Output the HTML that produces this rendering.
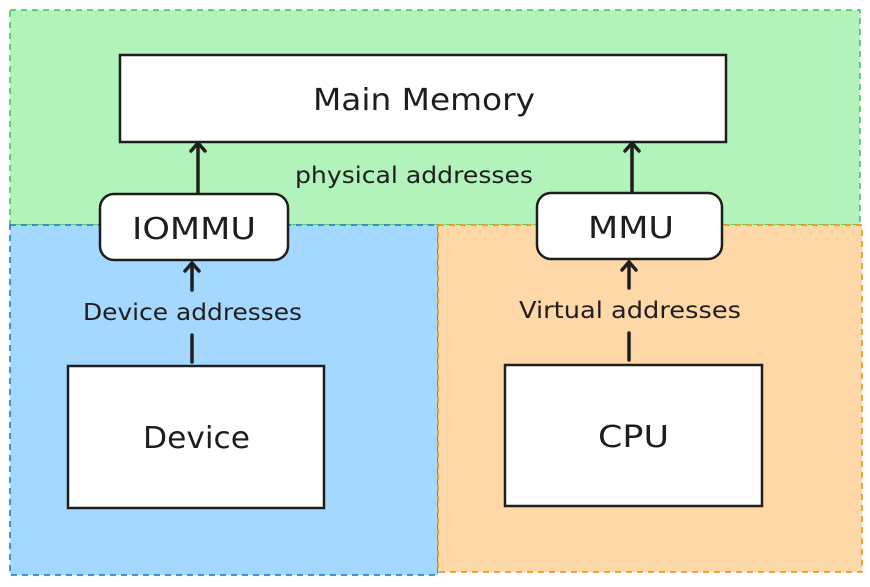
<!DOCTYPE html>
<html><head><meta charset="utf-8"><style>
html,body{margin:0;padding:0;background:#fff;}
svg text{font-family:"DejaVu Sans","Liberation Sans",sans-serif;fill:#1e1e1e;}
</style></head><body>
<svg width="870" height="582" viewBox="0 0 870 582" xmlns="http://www.w3.org/2000/svg">
<defs>
<marker id="ah" markerWidth="20" markerHeight="20" refX="10" refY="10" orient="auto" markerUnits="userSpaceOnUse">
<path d="M2,3 L10,10 L2,17" fill="none" stroke="#1e1e1e" stroke-width="3.5" stroke-linecap="round" stroke-linejoin="round"/>
</marker>
</defs>
<rect x="10" y="10" width="850" height="215" fill="#b2f2bb" stroke="#40c057" stroke-width="1.5" stroke-dasharray="6,5"/>
<rect x="10" y="225" width="428" height="350" fill="#a5d8ff" stroke="#1971c2" stroke-width="1.5" stroke-dasharray="6,5"/>
<rect x="438" y="225" width="424" height="347" fill="#ffd8a8" stroke="#f08c00" stroke-width="1.5" stroke-dasharray="6,5"/>

<rect x="120" y="55" width="606" height="87" fill="#fff" stroke="#1e1e1e" stroke-width="2.5"/>
<text x="313" y="110" font-size="30" textLength="222" lengthAdjust="spacingAndGlyphs">Main Memory</text>

<rect x="100" y="194" width="188" height="66" rx="14" fill="#fff" stroke="#1e1e1e" stroke-width="2.5"/>
<text x="132" y="239" font-size="30" textLength="124" lengthAdjust="spacingAndGlyphs">IOMMU</text>
<rect x="537" y="193" width="185" height="66" rx="14" fill="#fff" stroke="#1e1e1e" stroke-width="2.5"/>
<text x="588" y="238" font-size="30" textLength="86" lengthAdjust="spacingAndGlyphs">MMU</text>

<rect x="68" y="366" width="256" height="142" fill="#fff" stroke="#1e1e1e" stroke-width="2.5"/>
<text x="143" y="448" font-size="30" textLength="107" lengthAdjust="spacingAndGlyphs">Device</text>
<rect x="505" y="365" width="257" height="141" fill="#fff" stroke="#1e1e1e" stroke-width="2.5"/>
<text x="598" y="447" font-size="30" textLength="71" lengthAdjust="spacingAndGlyphs">CPU</text>

<g stroke="#1e1e1e" stroke-width="3.5" fill="none" stroke-linecap="round">
<line x1="198" y1="193" x2="198" y2="143" marker-end="url(#ah)"/>
<line x1="632" y1="192" x2="632" y2="143" marker-end="url(#ah)"/>
<line x1="192" y1="362" x2="192" y2="335"/>
<line x1="192" y1="290" x2="192" y2="263" marker-end="url(#ah)"/>
<line x1="629" y1="360" x2="629" y2="333"/>
<line x1="629" y1="288" x2="629" y2="262" marker-end="url(#ah)"/>
</g>
<text x="295" y="183" font-size="23" textLength="238" lengthAdjust="spacingAndGlyphs">physical addresses</text>
<text x="83" y="320" font-size="23" textLength="219" lengthAdjust="spacingAndGlyphs">Device addresses</text>
<text x="519" y="318" font-size="23" textLength="222" lengthAdjust="spacingAndGlyphs">Virtual addresses</text>
</svg>
</body></html>
